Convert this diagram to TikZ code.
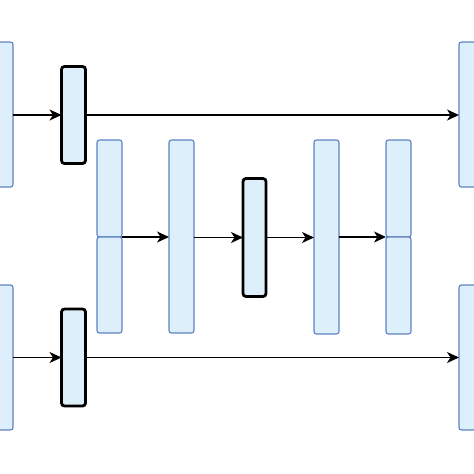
\documentclass[tikz,border=0pt]{standalone}
\usetikzlibrary{arrows.meta}
\definecolor{boxfill}{HTML}{DDEFFB}
\definecolor{boxline}{HTML}{5F82C2}
\tikzset{
  bluebox/.style={draw=boxline, fill=boxfill, line width=1.1pt, rounded corners=2.5pt,
    minimum width=25pt, inner sep=0pt, outer sep=0pt, rectangle},
  blackbox/.style={draw=black, fill=boxfill, line width=2.8pt, rounded corners=3pt,
    minimum width=24pt, inner sep=0pt, outer sep=0pt, rectangle},
  conn/.style={draw=black, line width=1.5pt, -{Stealth[length=12pt,width=11pt,inset=3.5pt]}}
}
\begin{document}
\begin{tikzpicture}[x=1pt,y=-1pt]
\useasboundingbox (0,0) rectangle (474,474);
\fill[white] (0,0) rectangle (474,474);
\begin{scope}
\clip (0,0) rectangle (474,474);
% outer columns
\node[bluebox, minimum height=145pt] (L1) at (0.5,114.5) {};
\node[bluebox, minimum height=145pt] (R1) at (471.5,114.5) {};
\node[bluebox, minimum height=145pt] (L2) at (0.5,357.5) {};
\node[bluebox, minimum height=145pt] (R2) at (471.5,357.5) {};
% black boxes of the outer rows
\node[blackbox, minimum height=97pt] (B1) at (73.5,115) {};
\node[blackbox, minimum height=97pt] (B2) at (73.5,357.5) {};
% middle row
\node[bluebox, minimum height=97pt] (C1t) at (109.5,188.5) {};
\node[bluebox, minimum height=96pt] (C1b) at (109.5,285) {};
\node[bluebox, minimum height=193pt] (C2) at (181.5,236.5) {};
\node[blackbox, minimum width=23pt, minimum height=118pt] (BM) at (254.5,237.5) {};
\node[bluebox, minimum height=194pt] (C4) at (326.5,237) {};
\node[bluebox, minimum height=97pt] (C5t) at (398.5,188.5) {};
\node[bluebox, minimum height=97pt] (C5b) at (398.5,285.5) {};
% connectors
\draw[conn] (L1.east |- B1.west) -- (B1.west);
\draw[conn] (B1.east) -- (B1.east -| R1.west);
\draw[conn] (L2.east |- B2.west) -- (B2.west);
\draw[conn] (B2.east) -- (B2.east -| R2.west);
\draw[conn] (C1t.south east) -- (C1t.south east -| C2.west);
\draw[conn] (C2.east |- BM.west) -- (BM.west);
\draw[conn] (BM.east) -- (BM.east -| C4.west);
\draw[conn] (C4.east |- C5t.south west) -- (C5t.south west);
\end{scope}
\end{tikzpicture}
\end{document}
